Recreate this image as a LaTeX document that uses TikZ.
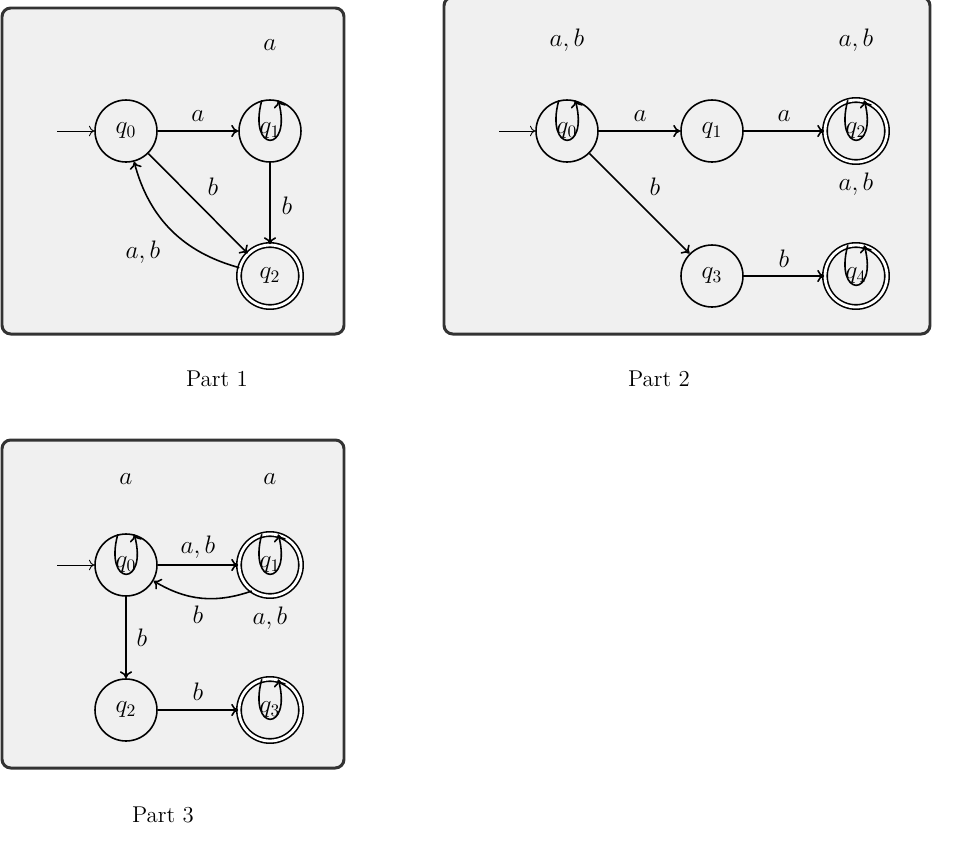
\documentclass[tikz,border=0pt]{standalone}
\usetikzlibrary{arrows.meta}
\begin{document}
\begin{tikzpicture}[x=0.02cm,y=-0.02cm,
  box/.style={draw=black!80,line width=1.7pt,fill=black!6,rounded corners=5pt},
  st/.style={circle,draw,line width=0.9pt,minimum size=1.24cm,inner sep=0pt,font=\fontsize{14}{16}\selectfont},
  acc/.style={st,double,double distance=1.6pt,minimum size=1.24cm},
  tr/.style={line width=0.9pt,-{To[length=4pt,width=7pt]}},
  ini/.style={line width=0.5pt,-{To[length=3pt,width=6pt]}},
  lb/.style={font=\fontsize{14}{16}\selectfont},
  captext/.style={font=\fontsize{13}{15}\selectfont}]
\useasboundingbox (0,0) rectangle (958,846);
% Part 1
\draw[box] (2,8) rectangle (344,334);
\node[st] (a0) at (126,131) {$q_0$};
\node[st] (a1) at (270,131) {$q_1$};
\node[acc] (a2) at (270,276) {$q_2$};
\coordinate (ai) at (57,131);
\draw[ini] (ai) -- (a0);
\draw[tr] (a1.105) .. controls +(105:55) and +(75:55) .. (a1.75);
\node[lb] (la1) at (270,45) {$a$};
\draw[tr] (a0) -- (a1);
\node[lb] (la2) at (198,116) {$a$};
\draw[tr] (a0) -- (a2);
\node[lb] (la3) at (213,187) {$b$};
\draw[tr] (a1) -- (a2);
\node[lb] (la4) at (287,206) {$b$};
\draw[tr] (a2) to[bend left=30] (a0);
\node[lb] (la5) at (143,252) {$a,b$};
\node[captext] (c1) at (217,379) {Part 1};
% Part 2
\draw[box] (444,-3) rectangle (930,334);
\node[st] (b0) at (567,131) {$q_0$};
\node[st] (b1) at (712,131) {$q_1$};
\node[acc] (b2) at (856,131) {$q_2$};
\node[st] (b3) at (712,276) {$q_3$};
\node[acc] (b4) at (856,276) {$q_4$};
\coordinate (bi) at (499,131);
\draw[ini] (bi) -- (b0);
\draw[tr] (b0.105) .. controls +(105:55) and +(75:55) .. (b0.75);
\node[lb] at (567,40) {$a,b$};
\draw[tr] (b2.105) .. controls +(105:55) and +(75:55) .. (b2.75);
\node[lb] at (856,40) {$a,b$};
\draw[tr] (b4.105) .. controls +(105:55) and +(75:55) .. (b4.75);
\node[lb] at (856,184) {$a,b$};
\draw[tr] (b0) -- (b1);
\node[lb] at (640,116) {$a$};
\draw[tr] (b1) -- (b2);
\node[lb] at (784,116) {$a$};
\draw[tr] (b0) -- (b3);
\node[lb] at (655,187) {$b$};
\draw[tr] (b3) -- (b4);
\node[lb] at (784,259) {$b$};
\node[captext] (c2) at (659,379) {Part 2};
% Part 3
\draw[box] (2,440) rectangle (344,768);
\node[st] (d0) at (126,565) {$q_0$};
\node[acc] (d1) at (270,565) {$q_1$};
\node[st] (d2) at (126,710) {$q_2$};
\node[acc] (d3) at (270,710) {$q_3$};
\coordinate (di) at (57,565);
\draw[ini] (di) -- (d0);
\draw[tr] (d0.105) .. controls +(105:55) and +(75:55) .. (d0.75);
\node[lb] at (126,479) {$a$};
\draw[tr] (d1.105) .. controls +(105:55) and +(75:55) .. (d1.75);
\node[lb] at (270,479) {$a$};
\draw[tr] (d3.105) .. controls +(105:55) and +(75:55) .. (d3.75);
\node[lb] at (270,618) {$a,b$};
\draw[tr] (d0) -- (d1);
\node[lb] at (198,547) {$a,b$};
\draw[tr] (d1.-125) to[bend left=25] (d0.-30);
\node[lb] at (198,615) {$b$};
\draw[tr] (d0) -- (d2);
\node[lb] at (142,638) {$b$};
\draw[tr] (d2) -- (d3);
\node[lb] at (198,692) {$b$};
\node[captext] (c3) at (163,815) {Part 3};
\end{tikzpicture}
\end{document}
